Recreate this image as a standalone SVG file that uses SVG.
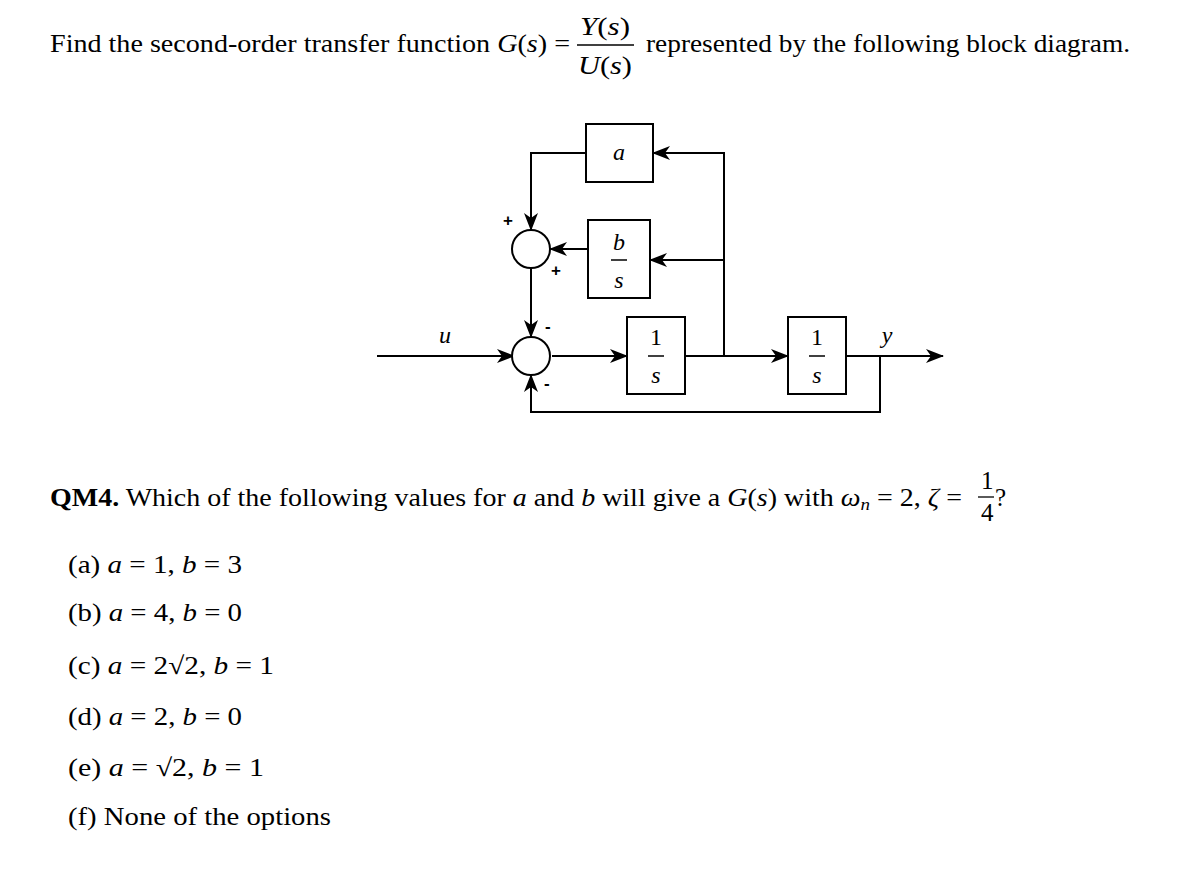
<svg xmlns="http://www.w3.org/2000/svg" width="1204" height="884" viewBox="0 0 1204 884">
<style>
text{font-family:"Liberation Serif","DejaVu Serif",serif;font-size:25px;fill:#000}
.m{font-style:italic}
.s{font-size:25px}
.b{font-size:24px}
.sg{font-family:"Liberation Sans",sans-serif;font-size:17px;font-weight:bold}
.blk{fill:#fff;stroke:#000;stroke-width:2}
.ln{fill:none;stroke:#000;stroke-width:2}
</style>
<defs><marker id="ah" markerWidth="18" markerHeight="14" refX="17" refY="7" orient="auto" markerUnits="userSpaceOnUse"><path d="M0,0 L18,7 L0,14 L5,7 Z" fill="#000"/></marker></defs>
<rect width="1204" height="884" fill="#fff"/>
<text x="50" y="52" textLength="520" lengthAdjust="spacingAndGlyphs">Find the second-order transfer function <tspan class="m">G</tspan>(<tspan class="m">s</tspan>) =</text>
<text x="580" y="35" textLength="50" lengthAdjust="spacingAndGlyphs"><tspan class="m">Y</tspan>(<tspan class="m">s</tspan>)</text>
<line x1="577" y1="45" x2="634" y2="45" stroke="#000" stroke-width="1.5"/>
<text x="578" y="74" textLength="54" lengthAdjust="spacingAndGlyphs"><tspan class="m">U</tspan>(<tspan class="m">s</tspan>)</text>
<text x="646" y="52" textLength="484" lengthAdjust="spacingAndGlyphs">represented by the following block diagram.</text>
<g id="connectors">
<polyline class="ln" points="377,356 514,356" marker-end="url(#ah)"/>
<polyline class="ln" points="552,356 627,356" marker-end="url(#ah)"/>
<polyline class="ln" points="685,356 788,356" marker-end="url(#ah)"/>
<polyline class="ln" points="846,356 943,356" marker-end="url(#ah)"/>
<polyline class="ln" points="724,356 724,153 653,153" marker-end="url(#ah)"/>
<polyline class="ln" points="724,260 650,260" marker-end="url(#ah)"/>
<polyline class="ln" points="586,153 531,153 531,230" marker-end="url(#ah)"/>
<polyline class="ln" points="588,249 550,249" marker-end="url(#ah)"/>
<polyline class="ln" points="531,268 531,337" marker-end="url(#ah)"/>
<polyline class="ln" points="880,356 880,412 531,412 531,375" marker-end="url(#ah)"/>
</g>
<g id="sum1"><circle class="blk" cx="531" cy="249" r="19"/></g>
<g id="sum2"><circle class="blk" cx="531" cy="356" r="19"/></g>
<g id="a"><rect class="blk" x="586" y="124" width="67" height="58"/><text x="619" y="160" class="m b" text-anchor="middle">a</text></g>
<g id="bs"><rect class="blk" x="588" y="220" width="62" height="78"/><text x="619" y="250" class="m b" text-anchor="middle">b</text><line x1="611" y1="260" x2="627" y2="260" stroke="#000" stroke-width="1.5"/><text x="619" y="288" class="m b" text-anchor="middle">s</text></g>
<g id="int1"><rect class="blk" x="627" y="317" width="58" height="77"/><text x="656" y="345" class="b" text-anchor="middle">1</text><line x1="648" y1="356" x2="664" y2="356" stroke="#000" stroke-width="1.5"/><text x="656" y="383" class="m b" text-anchor="middle">s</text></g>
<g id="int2"><rect class="blk" x="788" y="317" width="58" height="77"/><text x="817" y="345" class="b" text-anchor="middle">1</text><line x1="809" y1="356" x2="825" y2="356" stroke="#000" stroke-width="1.5"/><text x="817" y="383" class="m b" text-anchor="middle">s</text></g>
<text x="503" y="226" class="sg">+</text>
<text x="551" y="276" class="sg">+</text>
<text x="545" y="332" class="sg">-</text>
<text x="544" y="389" class="sg">-</text>
<text x="445" y="343" class="m b" text-anchor="middle">u</text>
<text x="887" y="343" class="m b" text-anchor="middle">y</text>
<text x="50" y="506" textLength="912" lengthAdjust="spacingAndGlyphs"><tspan font-weight="bold">QM4.</tspan> Which of the following values for <tspan class="m">a</tspan> and <tspan class="m">b</tspan> will give a <tspan class="m">G</tspan>(<tspan class="m">s</tspan>) with <tspan class="m">ω</tspan><tspan class="m" font-size="17" dy="4">n</tspan><tspan dy="-4"> = 2, </tspan><tspan class="m">ζ</tspan> =</text>
<text x="981" y="489" font-size="19">1</text>
<line x1="978" y1="497" x2="994" y2="497" stroke="#000" stroke-width="1.3"/>
<text x="981" y="521" font-size="19">4</text>
<text x="995" y="506">?</text>
<text x="68" y="573" textLength="174" lengthAdjust="spacingAndGlyphs">(a)  <tspan class="m">a</tspan> = 1, <tspan class="m">b</tspan> = 3</text>
<text x="68" y="621" textLength="174" lengthAdjust="spacingAndGlyphs">(b)  <tspan class="m">a</tspan> = 4, <tspan class="m">b</tspan> = 0</text>
<text x="68" y="674" textLength="206" lengthAdjust="spacingAndGlyphs">(c)  <tspan class="m">a</tspan> = 2√2, <tspan class="m">b</tspan> = 1</text>
<text x="68" y="725" textLength="174" lengthAdjust="spacingAndGlyphs">(d)  <tspan class="m">a</tspan> = 2, <tspan class="m">b</tspan> = 0</text>
<text x="68" y="776" textLength="196" lengthAdjust="spacingAndGlyphs">(e)  <tspan class="m">a</tspan> = √2, <tspan class="m">b</tspan> = 1</text>
<text x="68" y="825" textLength="263" lengthAdjust="spacingAndGlyphs">(f)  None of the options</text>
</svg>
